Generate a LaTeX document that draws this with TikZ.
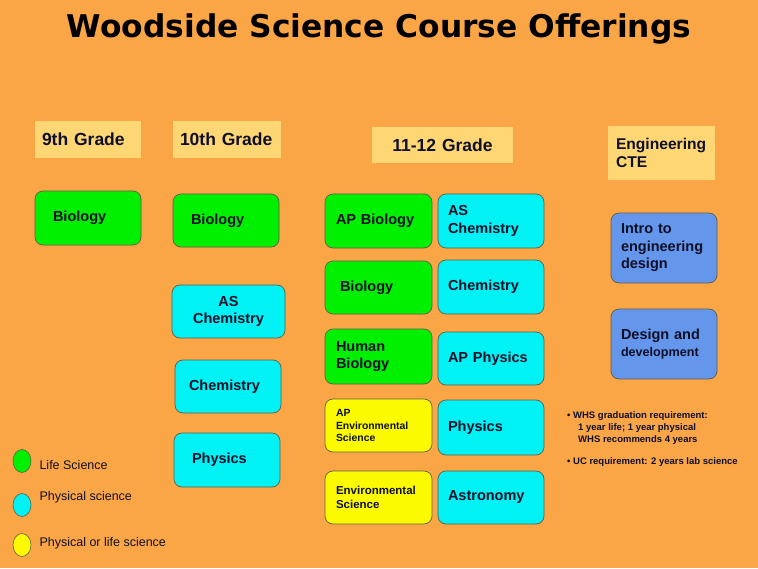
\documentclass[tikz,border=0pt]{standalone}
\usepackage{fontspec}
\setmainfont{Liberation Sans}
\newfontfamily\titlefont{DejaVu Sans}
\usetikzlibrary{shapes.geometric}
\definecolor{bgC}{RGB}{251,166,70}
\definecolor{headC}{RGB}{254,214,115}
\definecolor{lifeC}{RGB}{0,240,0}
\definecolor{physC}{RGB}{0,242,245}
\definecolor{eitherC}{RGB}{252,250,0}
\definecolor{engC}{RGB}{100,150,235}
\definecolor{edgeC}{RGB}{95,95,70}
\definecolor{ink}{RGB}{15,15,40}
\newcommand{\fsz}[2]{\fontsize{#1}{#2}\selectfont}
\tikzstyle{grade}=[fill=headC,inner ysep=0pt,align=left,font=\bfseries\fsz{17.5}{21},text=ink]
\tikzstyle{course}=[draw=edgeC,line width=0.7pt,rounded corners=8pt,inner ysep=0pt,align=left,font=\bfseries\fsz{14.5}{17.5},text=ink]
\tikzstyle{life}=[course,fill=lifeC]
\tikzstyle{phys}=[course,fill=physC]
\tikzstyle{either}=[course,fill=eitherC]
\tikzstyle{eng}=[course,fill=engC]
\tikzstyle{keydot}=[ellipse,draw=edgeC,line width=0.6pt,minimum width=18pt,minimum height=23pt,inner sep=0pt]
\tikzstyle{keytext}=[anchor=west,font=\fsz{12.5}{15},text=ink]
\begin{document}
\begin{tikzpicture}[x=1pt,y=-1pt]
    \useasboundingbox (0,0) rectangle (758,568);
    \fill[bgC] (0,0) rectangle (758,568);
    \node[anchor=base,font=\titlefont\bfseries\fsz{31.3}{36}] (title) at (379,37) {Woodside Science Course Offerings};

    % grade headers
    \node[grade,minimum width=106pt,minimum height=37pt,text width=92pt,inner xsep=7pt] (g9) at (88,139.5) {9th Grade};
    \node[grade,minimum width=108pt,minimum height=37pt,text width=94pt,inner xsep=7pt] (g10) at (227,139.5) {10th Grade};
    \node[grade,minimum width=141pt,minimum height=36pt,text width=103pt,inner xsep=19pt,align=center,xshift=3pt] (g11) at (439.5,145) {11-12 Grade};
    \node[grade,font=\bfseries\fsz{15.6}{18},minimum width=107pt,minimum height=54pt,text width=91pt,inner xsep=8pt] (geng) at (661.5,153) {Engineering\\CTE};

    % 9th and 10th grade
    \node[life,minimum width=106pt,minimum height=54pt,text width=70pt,inner xsep=18pt] (bio9) at (88,218) {Biology};
    \node[life,minimum width=106pt,minimum height=53pt,text width=70pt,inner xsep=18pt] (bio10) at (226,220.5) {Biology};
    \node[phys,align=center,minimum width=113pt,minimum height=53pt,text width=103pt,inner xsep=5pt] (asc10) at (228.5,311.5) {AS\\Chemistry};
    \node[phys,minimum width=106pt,minimum height=53pt,text width=78pt,inner xsep=14pt] (chem10) at (228,386.5) {Chemistry};
    \node[phys,minimum width=106pt,minimum height=54pt,text width=70pt,inner xsep=18pt] (phys10) at (227,460) {Physics};

    % 11-12 grade
    \node[life,minimum width=107pt,minimum height=54pt,text width=85pt,inner xsep=11pt] (apbio) at (378.5,221) {AP Biology};
    \node[life,minimum width=107pt,minimum height=53pt,text width=77pt,inner xsep=15pt] (bio11) at (378.5,287.5) {Biology};
    \node[life,minimum width=107pt,minimum height=55pt,text width=85pt,inner xsep=11pt] (hbio) at (378.5,356.5) {Human\\Biology};
    \node[either,font=\bfseries\fsz{10.4}{12.8},minimum width=107pt,minimum height=53pt,text width=85pt,inner xsep=11pt] (apes) at (378.5,425.5) {AP\\Environmental\\Science};
    \node[either,font=\bfseries\fsz{11.5}{14},minimum width=107pt,minimum height=53pt,text width=85pt,inner xsep=11pt] (es) at (378.5,497.5) {Environmental\\Science};
    \node[phys,minimum width=106pt,minimum height=54pt,text width=86pt,inner xsep=10pt] (asc11) at (491,221) {AS\\Chemistry};
    \node[phys,minimum width=106pt,minimum height=54pt,text width=86pt,inner xsep=10pt] (chem11) at (491,287) {Chemistry};
    \node[phys,minimum width=106pt,minimum height=53pt,text width=86pt,inner xsep=10pt] (apphys) at (491,358.5) {AP Physics};
    \node[phys,minimum width=106pt,minimum height=55pt,text width=86pt,inner xsep=10pt] (phys11) at (491,427.5) {Physics};
    \node[phys,minimum width=106pt,minimum height=53pt,text width=86pt,inner xsep=10pt] (astro) at (491,497.5) {Astronomy};

    % engineering
    \node[eng,minimum width=106pt,minimum height=70pt,text width=86pt,inner xsep=10pt] (intro) at (664,248) {Intro to\\engineering\\design};
    \node[eng,minimum width=106pt,minimum height=70pt,text width=86pt,inner xsep=10pt] (dd) at (664,344) {Design and\\{\fsz{12.6}{16}development}};

    % requirements
    \node[anchor=north west,align=left,inner sep=0pt,font=\bfseries\fsz{9.5}{12},text=ink] (reqwhs) at (567,411) {\textbullet\ WHS graduation requirement:\\\hspace*{11pt}1 year life; 1 year physical\\\hspace*{11pt}WHS recommends 4 years};
    \node[anchor=north west,inner sep=0pt,font=\bfseries\fsz{9.5}{12},text=ink] (requc) at (567,457) {\textbullet\ UC requirement: 2 years lab science};

    % legend
    \node[keydot,fill=lifeC] (klife) at (22,461) {};
    \node[keydot,fill=physC] (kphys) at (22,505) {};
    \node[keydot,fill=eitherC] (keither) at (22,545) {};
    \node[keytext] (tlife) at (36,465) {Life Science};
    \node[keytext] (tphys) at (36,497) {Physical science};
    \node[keytext] (teither) at (36,543) {Physical or life science};
\end{tikzpicture}
\end{document}
